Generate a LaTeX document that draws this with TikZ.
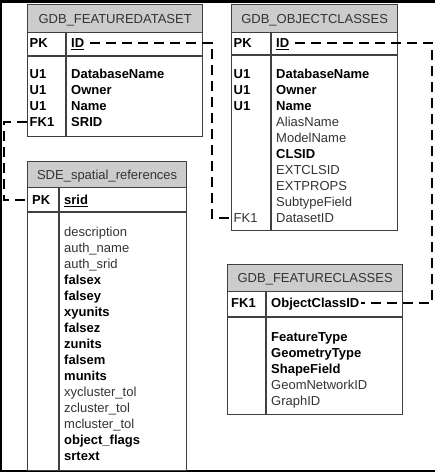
\documentclass[tikz,border=0pt]{standalone}
\usepackage{fontspec}
\setmainfont{Liberation Sans}
\definecolor{hdrgray}{RGB}{204,204,204}
\definecolor{boxgray}{RGB}{64,64,64}
\definecolor{txtgray}{RGB}{51,51,51}

\begin{document}
\begin{tikzpicture}[x=1pt,y=-1pt,
  font=\fontsize{13}{16}\selectfont,
  tbl/.style={draw=boxgray,line width=1.3pt,inner sep=0pt,anchor=north west},
  hdr/.style={tbl,fill=hdrgray,text=txtgray,text height=10pt,text depth=1pt},
  grid/.style={draw=boxgray,line width=1.3pt},
  fp/.style={anchor=west,inner sep=0pt,text=txtgray,text height=10pt,text depth=1pt},
  fb/.style={fp,text=black,font=\fontsize{13}{16}\selectfont\bfseries},
  rel/.style={line width=1.6pt,dash pattern=on 10pt off 6pt}]
\useasboundingbox (0,0) rectangle (435,472);
% frame
\draw [black,line width=3pt] (0,1.5) -- (435,1.5);
\draw [black,line width=1.7pt] (0.85,0) -- (0.85,472);
\draw [black,line width=2pt] (0,471) -- (435,471);
% GDB_FEATUREDATASET
\node [tbl,minimum width=175pt,minimum height=132pt] (fd) at (27,4) {};
\node [hdr,minimum width=175pt,minimum height=28pt] (fdH) at (27,4) {GDB\_FEATUREDATASET};
\draw [grid] (27,56) -- (202,56);
\draw [grid] (66,32) -- (66,136);
\node [fb] (fdPK) at (29.5,43) {PK};
\node [fb] (fdID) at (71,43) {\underline{ID}};
\node [fb] (fdU1a) at (29.5,74) {U1};
\node [fb] (fdDB) at (71,74) {DatabaseName};
\node [fb] (fdU1b) at (29.5,90) {U1};
\node [fb] (fdOwner) at (71,90) {Owner};
\node [fb] (fdU1c) at (29.5,106) {U1};
\node [fb] (fdName) at (71,106) {Name};
\node [fb] (fdFK) at (29.5,122) {FK1};
\node [fb] (fdSRID) at (71,122) {SRID};
% SDE_spatial_references
\node [tbl,minimum width=159pt,minimum height=309pt] (sr) at (27,161) {};
\node [hdr,minimum width=159pt,minimum height=26pt] (srH) at (27,161) {SDE\_spatial\_references};
\draw [grid] (27,212) -- (186,212);
\draw [grid] (59,187) -- (59,470);
\node [fb] (srPK) at (32,200) {PK};
\node [fb] (srSrid) at (64,200) {\underline{srid}};
\node [fp] (srDesc) at (64,232) {description};
\node [fp] (srAuthName) at (64,248) {auth\_name};
\node [fp] (srAuthSrid) at (64,264) {auth\_srid};
\node [fb] (srFalseX) at (64,280) {falsex};
\node [fb] (srFalseY) at (64,296) {falsey};
\node [fb] (srXYUnits) at (64,312) {xyunits};
\node [fb] (srFalseZ) at (64,328) {falsez};
\node [fb] (srZUnits) at (64,344) {zunits};
\node [fb] (srFalseM) at (64,360) {falsem};
\node [fb] (srMUnits) at (64,376) {munits};
\node [fp] (srXYTol) at (64,392) {xycluster\_tol};
\node [fp] (srZTol) at (64,408) {zcluster\_tol};
\node [fp] (srMTol) at (64,424) {mcluster\_tol};
\node [fb] (srFlags) at (64,440) {object\_flags};
\node [fb] (srText) at (64,456) {srtext};
% GDB_OBJECTCLASSES
\node [tbl,minimum width=166pt,minimum height=226pt] (oc) at (231,4) {};
\node [hdr,minimum width=166pt,minimum height=28pt] (ocH) at (231,4) {GDB\_OBJECTCLASSES};
\draw [grid] (231,55) -- (397,55);
\draw [grid] (271,32) -- (271,230);
\node [fb] (ocPK) at (233.5,43) {PK};
\node [fb] (ocID) at (276,43) {\underline{ID}};
\node [fb] (ocU1a) at (233.5,74) {U1};
\node [fb] (ocDB) at (276,74) {DatabaseName};
\node [fb] (ocU1b) at (233.5,90) {U1};
\node [fb] (ocOwner) at (276,90) {Owner};
\node [fb] (ocU1c) at (233.5,106) {U1};
\node [fb] (ocName) at (276,106) {Name};
\node [fp] (ocAlias) at (276,122) {AliasName};
\node [fp] (ocModel) at (276,138) {ModelName};
\node [fb] (ocCLSID) at (276,154) {CLSID};
\node [fp] (ocExtCLSID) at (276,170) {EXTCLSID};
\node [fp] (ocExtProps) at (276,186) {EXTPROPS};
\node [fp] (ocSubtype) at (276,202) {SubtypeField};
\node [fp] (ocFK) at (233.5,218) {FK1};
\node [fp] (ocDataset) at (276,218) {DatasetID};
% GDB_FEATURECLASSES
\node [tbl,minimum width=175pt,minimum height=150pt] (fc) at (227,264) {};
\node [hdr,minimum width=175pt,minimum height=27pt] (fcH) at (227,264) {GDB\_FEATURECLASSES};
\draw [grid] (227,317) -- (402,317);
\draw [grid] (266,291) -- (266,414);
\node [fb] (fcFK) at (231,303) {FK1};
\node [fb] (fcOCID) at (271,303) {ObjectClassID};
\node [fb] (fcFType) at (271,337) {FeatureType};
\node [fb] (fcGType) at (271,353) {GeometryType};
\node [fb] (fcShape) at (271,369) {ShapeField};
\node [fp] (fcGeomNet) at (271,385) {GeomNetworkID};
\node [fp] (fcGraph) at (271,401) {GraphID};
% relationships
\coordinate (bendA) at (212,43);
\coordinate (bendB) at (4,122);
\coordinate (bendC) at (432,43);
\draw [rel] ([xshift=6pt]fdID.east) -| (bendA |- ocDataset) -- (oc.west |- ocDataset);
\draw [rel] (fd.west |- fdSRID) -| (bendB |- srPK) -- (sr.west |- srPK);
\draw [rel] ([xshift=6pt]ocID.east) -| (bendC |- fcOCID) -- ([xshift=1pt]fcOCID.east);
\end{tikzpicture}
\end{document}
